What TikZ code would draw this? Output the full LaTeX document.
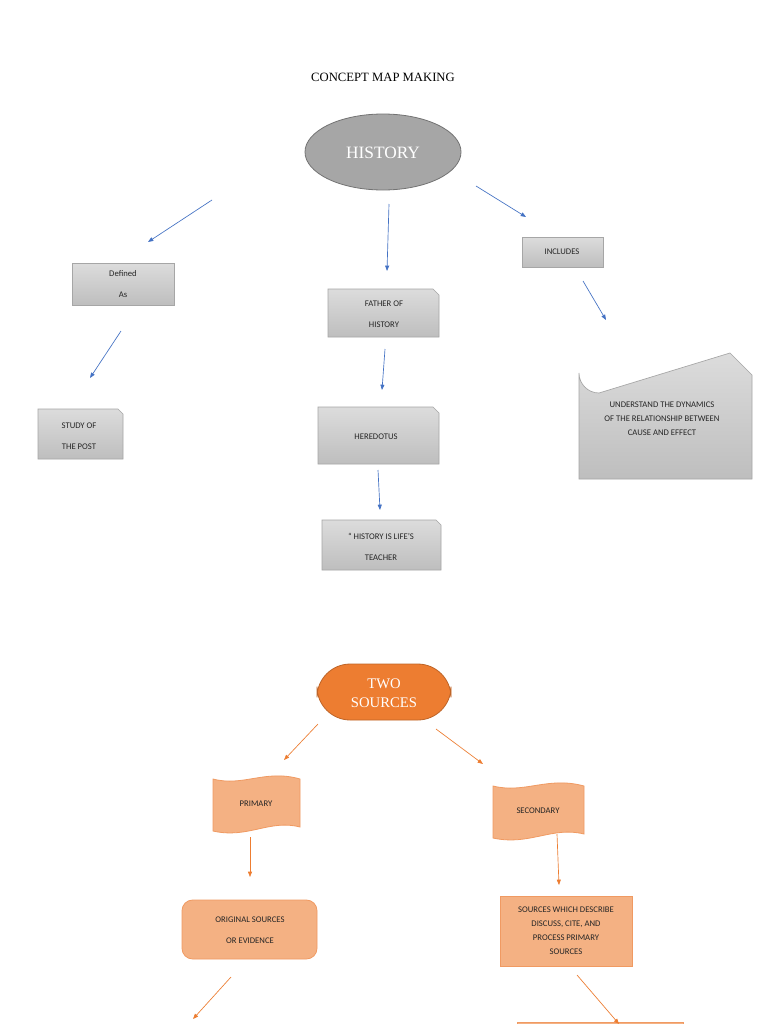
\documentclass[tikz,border=0pt]{standalone}
\usepackage{fontspec}
\setmainfont{Carlito}
\newfontfamily\seriff{Liberation Serif}
\usetikzlibrary{arrows.meta}
\definecolor{gbord}{HTML}{A6A6A6}
\definecolor{gtop}{HTML}{DCDCDC}
\definecolor{gbot}{HTML}{BEBEBE}
\definecolor{bl}{HTML}{4472C4}
\definecolor{org}{HTML}{ED7D31}
\definecolor{salm}{HTML}{F4B183}
\definecolor{salmb}{HTML}{F09A62}
\tikzset{
  gbox/.style={draw=gbord, line width=0.5pt, top color=gtop, bottom color=gbot},
  sbox/.style={draw=salmb, line width=0.6pt, fill=salm},
  lbl/.style={inner sep=0pt, font=\fontsize{6.5}{8}\selectfont, text=black!85, align=center},
  barr/.style={draw=bl, line width=0.5pt, -{Triangle[length=4pt,width=3pt]}},
  oarr/.style={draw=org, line width=0.5pt, -{Triangle[length=4pt,width=3pt]}},
}
\newcommand\snipbox[5]{\path[gbox] (#1,#2) -- (#3-#5,#2) -- (#3,#2+#5) -- (#3,#4) -- (#1,#4) -- cycle;}
\newcommand\banner[4]{\path[sbox] (#1,#2+4) .. controls ({#1+(#3-#1)*0.35},#2+12) and ({#1+(#3-#1)*0.6},#2-6) .. (#3,#2+4) -- (#3,#4-6) .. controls ({#3-(#3-#1)*0.35},#4-14) and ({#3-(#3-#1)*0.6},#4+6) .. (#1,#4-2) -- cycle;}
\begin{document}
\begin{tikzpicture}[x=0.75pt,y=-0.75pt]
\useasboundingbox (0,0) rectangle (768,1024);
\fill[white] (0,0) rectangle (768,1024);
\node[inner sep=0pt, font=\seriff\fontsize{9.5}{11}\selectfont] (title) at (383,77) {CONCEPT MAP MAKING};
% history ellipse
\path[draw=black!55, fill=gbord, line width=0.6pt] (383,152) ellipse [x radius=78, y radius=38];
\node[inner sep=0pt, text=white, font=\seriff\fontsize{13}{15}\selectfont] (hist) at (383,153) {HISTORY};
% boxes
\path[gbox] (72,263) rectangle (174,305);
\node[lbl] (def) at (123,284) {Defined\\[8pt]As};
\path[gbox] (522,237) rectangle (603,267);
\node[lbl] (inc) at (562,252) {INCLUDES};
\snipbox{328}{289}{439}{337}{6}
\node[lbl] (fat) at (384,314) {FATHER OF\\[8pt]HISTORY};
\snipbox{38}{409}{123}{459}{5}
\node[lbl] (stu) at (79,436) {STUDY OF\\[8pt]THE POST};
\snipbox{318}{407}{439}{464}{6}
\node[lbl] (her) at (376,437) {HEREDOTUS};
\snipbox{322}{520}{441}{570}{5}
\node[lbl] (tea) at (381,547) {“ HISTORY IS LIFE’S\\[8pt]TEACHER};
\path[gbox] (579,373) arc[start angle=180,end angle=90,radius=20] -- (730,353) -- (752,375) -- (752,479) -- (579,479) -- cycle;
\node[lbl, font=\fontsize{6.5}{10.5}\selectfont] (und) at (662,419) {UNDERSTAND THE DYNAMICS\\OF THE RELATIONSHIP BETWEEN\\CAUSE AND EFFECT};
% blue arrows
\coordinate (a1) at (212,200); \coordinate (b1) at (148,242);
\coordinate (a2) at (389,204); \coordinate (b2) at (387,271);
\coordinate (a3) at (476,186); \coordinate (b3) at (526,217);
\coordinate (a4) at (583,281); \coordinate (b4) at (606,320);
\coordinate (a5) at (121,331); \coordinate (b5) at (90,378);
\coordinate (a6) at (385,349); \coordinate (b6) at (382,390);
\coordinate (a7) at (378,470); \coordinate (b7) at (380,510);
\foreach \i in {1,...,7} {\draw[barr] (a\i) -- (b\i);}
% two sources
\path[draw=org!80!black, fill=org, line width=0.6pt, rounded corners=25] (317,664) rectangle (451,720);
\node[inner sep=0pt, text=white, align=center, font=\seriff\fontsize{11}{14}\selectfont] (two) at (384,693) {TWO\\SOURCES};
\banner{213}{775}{300}{833}
\node[lbl] (pri) at (256,804) {PRIMARY};
\banner{493}{782}{584}{840}
\node[lbl] (sec) at (538,811) {SECONDARY};
\path[sbox, rounded corners=8] (182,900) rectangle (317,959);
\node[lbl] (ori) at (250,930) {ORIGINAL SOURCES\\[8pt]OR EVIDENCE};
\path[sbox] (500,896) rectangle (632,966);
\node[lbl, font=\fontsize{6.5}{10.5}\selectfont] (swd) at (566,931) {SOURCES WHICH DESCRIBE\\DISCUSS, CITE, AND\\PROCESS PRIMARY\\SOURCES};
\begin{scope}
\clip (0,0) rectangle (768,1024);
\path[sbox] (517,1022) rectangle (683,1040);
\end{scope}
% orange arrows
\coordinate (c1) at (318,724); \coordinate (d1) at (284,760);
\coordinate (c2) at (436,729); \coordinate (d2) at (483,764);
\coordinate (c3) at (250,837); \coordinate (d3) at (250,877);
\coordinate (c4) at (557,834); \coordinate (d4) at (559,885);
\coordinate (c5) at (231,977); \coordinate (d5) at (193,1019);
\coordinate (c6) at (577,975); \coordinate (d6) at (619,1024);
\foreach \i in {1,...,6} {\draw[oarr] (c\i) -- (d\i);}
\end{tikzpicture}
\end{document}
